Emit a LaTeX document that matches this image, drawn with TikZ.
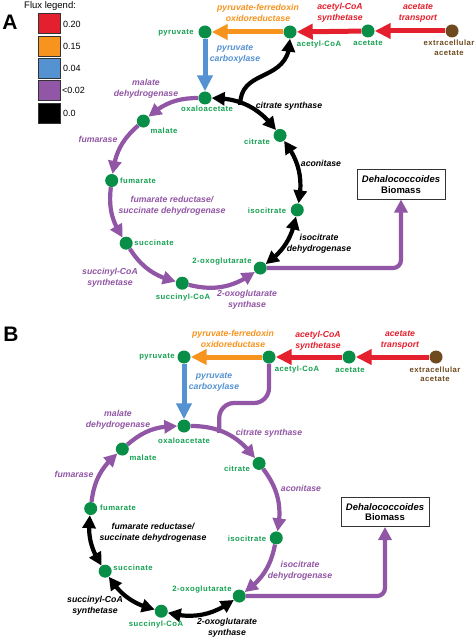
\documentclass[tikz,border=0pt]{standalone}
\usepackage{fontspec}
\setmainfont{Liberation Sans}
\newfontfamily\metfont[LetterSpace=6]{Liberation Sans}
\usetikzlibrary{arrows.meta,bending}
\definecolor{fred}{RGB}{229,32,46}
\definecolor{forange}{RGB}{247,148,30}
\definecolor{fblue}{RGB}{84,146,210}
\definecolor{fpurple}{RGB}{145,86,165}
\definecolor{mgreen}{RGB}{8,142,70}
\definecolor{tgreen}{RGB}{20,160,80}
\definecolor{mbrown}{RGB}{110,74,30}
\begin{document}
\begin{tikzpicture}[x=1pt,y=-1pt,
  met/.style={circle,fill=mgreen,inner sep=0pt,minimum size=13pt},
  extmet/.style={met,fill=mbrown},
  mlab/.style={font=\metfont\fontsize{7.7}{9.5}\selectfont\bfseries,text=tgreen,inner sep=0pt,align=center},
  elab/.style={font=\fontsize{8.7}{11}\selectfont\bfseries\itshape,align=center,inner sep=0pt},
  panel/.style={font=\fontsize{21}{22}\selectfont\bfseries,inner sep=0pt},
  legbox/.style={draw=black!80,line width=0.8pt,minimum width=22pt,minimum height=20pt,inner sep=0pt},
  legtxt/.style={font=\fontsize{9}{10}\selectfont,anchor=west,inner sep=0pt},
  biobox/.style={draw=black!80,line width=1pt,minimum width=88pt,minimum height=29pt,inner sep=0pt,align=center,font=\fontsize{9.5}{10.5}\selectfont\bfseries},
  wide/.style={line width=5pt,-{Triangle[length=16pt,width=15pt]}},
  arcone/.style={line width=4.2pt,-{Triangle[length=13pt,width=13pt]}},
  arctwo/.style={line width=4.2pt,{Triangle[length=13pt,width=13pt]}-{Triangle[length=13pt,width=13pt]}},
  arcnone/.style={line width=4.2pt}]
\useasboundingbox (0,0) rectangle (474,639);
\fill[white] (0,0) rectangle (474,639);

% ---------------- legend ----------------
\node[panel] (pA) at (10,22) {A};
\node[font=\fontsize{9.5}{11}\selectfont,anchor=west,inner sep=0pt] (leg) at (24,6) {Flux legend:};
\node[legbox,fill=fred] (l1) at (49,23) {};
\node[legbox,fill=forange] (l2) at (49,46) {};
\node[legbox,fill=fblue] (l3) at (49,68) {};
\node[legbox,fill=fpurple] (l4) at (49,90.5) {};
\node[legbox,fill=black] (l5) at (49,113.5) {};
\node[legtxt] (t1) at (63,24) {0.20};
\node[legtxt] (t2) at (63,46) {0.15};
\node[legtxt] (t3) at (63,68.5) {0.04};
\node[legtxt] (t4) at (62,90.5) {<0.02};
\node[legtxt] (t5) at (63,113) {0.0};

% ---------------- panel A ----------------
\node[met] (apyr) at (205,32) {};
\node[met] (aacc) at (290,32) {};
\node[met] (aace) at (368,31) {};
\node[extmet] (aext) at (452,31) {};
\path (205,192) ++(90:94pt) node[met] (aoxa) {};
\path (205,192) ++(131:94pt) node[met] (amal) {};
\path (205,192) ++(173:94pt) node[met] (afum) {};
\path (205,192) ++(213:94pt) node[met] (asuc) {};
\path (205,192) ++(256:94pt) node[met] (asca) {};
\path (205,192) ++(306:94pt) node[met] (aoxo) {};
\path (205,192) ++(349:94pt) node[met] (aiso) {};
\path (205,192) ++(37:94pt) node[met] (acit) {};
\path (205,192) ++(68:94pt) coordinate (aJ);
\node[biobox] (abio) at (401,184.5) {\textit{Dehalococcoides}\\Biomass};

\draw[fred,wide] (aext) -- (aace);
\draw[fred,wide] (aace) -- (aacc);
\draw[forange,wide] (aacc) -- (apyr);
\draw[fblue,wide] (apyr) -- (aoxa);
\draw[fpurple,arcone] (aoxa) to[bend right=20.5] (amal);
\draw[fpurple,arcone] (amal) to[bend right=21] (afum);
\draw[fpurple,arcone] (afum) to[bend right=20] (asuc);
\draw[fpurple,arcone] (asuc) to[bend right=21.5] (asca);
\draw[fpurple,arcone] (asca) to[bend right=25] (aoxo);
\draw[black,arctwo] (aoxo) to[bend right=21.5] (aiso);
\draw[black,arctwo] (aiso) to[bend right=24] (acit);
\draw[black,arctwo] (aoxa) to[bend left=26.5] (acit);
\draw[black,arcone] (aJ) .. controls +(0,-38) and +(0,52) .. (aacc);
\draw[fpurple,arcone,rounded corners=8pt] (aoxo) -| (abio);

\node[mlab] (ma1) at (176,33) {pyruvate};
\node[mlab] (ma2) at (319,45) {acetyl-CoA};
\node[mlab] (ma3) at (368,43) {acetate};
\node[mlab,text=mbrown] (ma4) at (449,48) {extracellular\\acetate};
\node[mlab] (ma5) at (207,109) {oxaloacetate};
\node[mlab] (ma6) at (164,131) {malate};
\node[mlab] (ma7) at (138,181) {fumarate};
\node[mlab] (ma8) at (154,243) {succinate};
\node[mlab] (ma9) at (183,298) {succinyl-CoA};
\node[mlab] (ma10) at (222,262) {2-oxoglutarate};
\node[mlab] (ma11) at (267,211) {isocitrate};
\node[mlab] (ma12) at (257,142) {citrate};

\node[elab,text=forange] (ea1) at (258,12.5) {pyruvate-ferredoxin\\oxidoreductase};
\node[elab,text=fred] (ea2) at (340,12.5) {acetyl-CoA\\synthetase};
\node[elab,text=fred] (ea3) at (418,13.5) {acetate\\transport};
\node[elab,text=fblue] (ea4) at (235,54.5) {pyruvate\\carboxylase};
\node[elab,text=fpurple] (ea5) at (146,88.5) {malate\\dehydrogenase};
\node[elab,text=fpurple] (ea6) at (98,139) {fumarase};
\node[elab,text=fpurple] (ea7) at (172,205.5) {fumarate reductase/\\succinate dehydrogenase};
\node[elab,text=fpurple] (ea8) at (110,278) {succinyl-CoA\\synthetase};
\node[elab,text=fpurple] (ea9) at (247,299.5) {2-oxoglutarate\\synthase};
\node[elab,text=black] (ea10) at (319,243.5) {isocitrate\\dehydrogenase};
\node[elab,text=black] (ea11) at (321,163) {aconitase};
\node[elab,text=black] (ea12) at (289,106) {citrate synthase};

% ---------------- panel B ----------------
\node[panel] (pB) at (11,334) {B};
\node[met] (bpyr) at (184,357) {};
\node[met] (bacc) at (269,357) {};
\node[met] (bace) at (349,357) {};
\node[extmet] (bext) at (436,357) {};
\path (184,520) ++(90:94pt) node[met] (boxa) {};
\path (184,520) ++(131:94pt) node[met] (bmal) {};
\path (184,520) ++(173:94pt) node[met] (bfum) {};
\path (184,520) ++(213:94pt) node[met] (bsuc) {};
\path (184,520) ++(256:94pt) node[met] (bsca) {};
\path (184,520) ++(306:94pt) node[met] (boxo) {};
\path (184,520) ++(349:94pt) node[met] (biso) {};
\path (184,520) ++(37:94pt) node[met] (bcit) {};
\path (184,520) ++(68:94pt) coordinate (bJ);
\node[biobox] (bbio) at (385,512) {\textit{Dehalococcoides}\\Biomass};

\draw[fred,wide] (bext) -- (bace);
\draw[fred,wide] (bace) -- (bacc);
\draw[forange,wide] (bacc) -- (bpyr);
\draw[fblue,wide] (bpyr) -- (boxa);
\draw[fpurple,arcone] (bmal) to[bend left=20.5] (boxa);
\draw[fpurple,arcone] (bfum) to[bend left=21] (bmal);
\draw[black,arctwo] (bfum) to[bend right=20] (bsuc);
\draw[black,arctwo] (bsuc) to[bend right=21.5] (bsca);
\draw[black,arctwo] (bsca) to[bend right=25] (boxo);
\draw[fpurple,arcone] (biso) to[bend left=21.5] (boxo);
\draw[fpurple,arcone] (bcit) to[bend left=24] (biso);
\draw[fpurple,arcone] (boxa) to[bend left=26.5] (bcit);
\draw[fpurple,arcnone,rounded corners=15pt] (bacc.south) -- (bacc.south |- 0,403) -- (bJ |- 0,403) -- (bJ);
\draw[fpurple,arcone,rounded corners=8pt] (boxo) -| (bbio);

\node[mlab] (mb1) at (157,357) {pyruvate};
\node[mlab] (mb2) at (297,370) {acetyl-CoA};
\node[mlab] (mb3) at (350,370) {acetate};
\node[mlab,text=mbrown] (mb4) at (435,374) {extracellular\\acetate};
\node[mlab] (mb5) at (184,441) {oxaloacetate};
\node[mlab] (mb6) at (143,458) {malate};
\node[mlab] (mb7) at (118,508) {fumarate};
\node[mlab] (mb8) at (133,568) {succinate};
\node[mlab] (mb9) at (156,625) {succinyl-CoA};
\node[mlab] (mb10) at (202,590) {2-oxoglutarate};
\node[mlab] (mb11) at (247,539) {isocitrate};
\node[mlab] (mb12) at (237,469) {citrate};

\node[elab,text=forange] (eb1) at (233,339) {pyruvate-ferredoxin\\oxidoreductase};
\node[elab,text=fred] (eb2) at (318,340.5) {acetyl-CoA\\synthetase};
\node[elab,text=fred] (eb3) at (400,340.5) {acetate\\transport};
\node[elab,text=fblue] (eb4) at (214,382) {pyruvate\\carboxylase};
\node[elab,text=fpurple] (eb5) at (118,419.5) {malate\\dehydrogenase};
\node[elab,text=fpurple] (eb6) at (74,474) {fumarase};
\node[elab,text=black] (eb7) at (153,533) {fumarate reductase/\\succinate dehydrogenase};
\node[elab,text=black] (eb8) at (95,606) {succinyl-CoA\\synthetase};
\node[elab,text=black] (eb9) at (227,627.5) {2-oxoglutarate\\synthase};
\node[elab,text=fpurple] (eb10) at (300,571) {isocitrate\\dehydrogenase};
\node[elab,text=fpurple] (eb11) at (301,488) {aconitase};
\node[elab,text=fpurple] (eb12) at (269,433) {citrate synthase};
\end{tikzpicture}
\end{document}
